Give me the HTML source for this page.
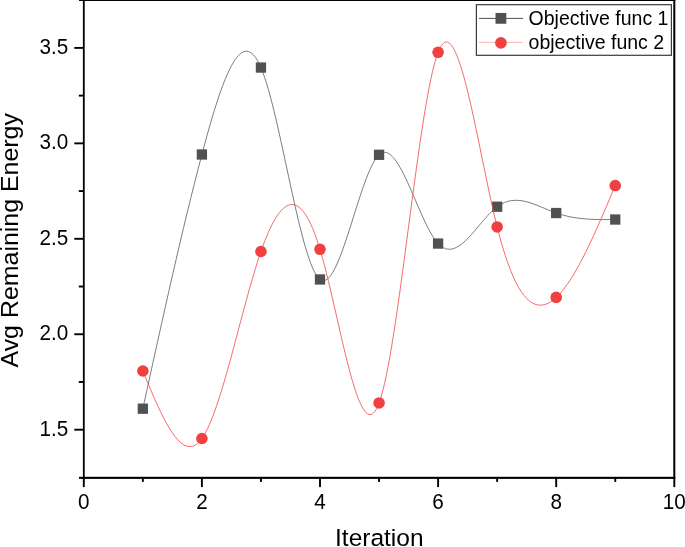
<!DOCTYPE html>
<html><head><meta charset="utf-8"><style>
html,body{margin:0;padding:0;background:#fff;}
body{width:685px;height:547px;overflow:hidden;}
svg{display:block;}
text{font-family:"Liberation Sans",Arial,sans-serif;fill:#000;}
</style></head><body>
<svg width="685" height="547" viewBox="0 0 685 547">
<rect width="685" height="547" fill="#fff"/>

<g fill="#000">
<rect x="79" y="-1" width="596.3" height="2"/>
<rect x="79" y="476.8" width="596.3" height="2.1"/>
<rect x="82.9" y="0" width="1.8" height="478"/>
<rect x="673.3" y="0" width="2" height="478"/>
<rect x="82.85" y="477.5" width="1.9" height="9.6"/>
<rect x="141.90" y="477.5" width="1.9" height="4.4"/>
<rect x="200.95" y="477.5" width="1.9" height="9.6"/>
<rect x="260.00" y="477.5" width="1.9" height="4.4"/>
<rect x="319.05" y="477.5" width="1.9" height="9.6"/>
<rect x="378.10" y="477.5" width="1.9" height="4.4"/>
<rect x="437.15" y="477.5" width="1.9" height="9.6"/>
<rect x="496.20" y="477.5" width="1.9" height="4.4"/>
<rect x="555.25" y="477.5" width="1.9" height="9.6"/>
<rect x="614.30" y="477.5" width="1.9" height="4.4"/>
<rect x="673.35" y="477.5" width="1.9" height="9.6"/>
<rect x="74.30" y="428.75" width="9.5" height="1.9"/>
<rect x="78.80" y="381.02" width="5.0" height="1.9"/>
<rect x="74.30" y="333.30" width="9.5" height="1.9"/>
<rect x="78.80" y="285.57" width="5.0" height="1.9"/>
<rect x="74.30" y="237.85" width="9.5" height="1.9"/>
<rect x="78.80" y="190.13" width="5.0" height="1.9"/>
<rect x="74.30" y="142.40" width="9.5" height="1.9"/>
<rect x="78.80" y="94.67" width="5.0" height="1.9"/>
<rect x="74.30" y="46.95" width="9.5" height="1.9"/>
</g>
<g font-size="22.0" text-anchor="middle">
<text transform="translate(83.80,509.0) scale(0.940,1)">0</text>
<text transform="translate(201.90,509.0) scale(0.940,1)">2</text>
<text transform="translate(320.00,509.0) scale(0.940,1)">4</text>
<text transform="translate(438.10,509.0) scale(0.940,1)">6</text>
<text transform="translate(556.20,509.0) scale(0.940,1)">8</text>
<text transform="translate(674.30,509.0) scale(0.940,1)">10</text>
</g>
<g font-size="22.0" text-anchor="end">
<text transform="translate(68.3,435.80) scale(0.940,1)">1.5</text>
<text transform="translate(68.3,340.35) scale(0.940,1)">2.0</text>
<text transform="translate(68.3,244.90) scale(0.940,1)">2.5</text>
<text transform="translate(68.3,149.45) scale(0.940,1)">3.0</text>
<text transform="translate(68.3,54.00) scale(0.940,1)">3.5</text>
</g>
<text x="379.3" y="546.1" font-size="24.5" text-anchor="middle">Iteration</text>
<text transform="translate(17.7,240.3) rotate(-90) scale(1.022,1)" font-size="24.4" text-anchor="middle">Avg Remaining Energy</text>
<path d="M142.85 408.70 C162.53 318.77 182.22 228.83 201.90 154.50 C221.58 80.16 241.27 21.43 260.95 67.56 C280.63 113.70 300.32 264.70 320.00 279.46 C339.68 294.22 359.37 172.75 379.05 154.80 C398.73 136.86 418.42 222.44 438.10 243.57 C457.78 264.70 477.47 221.38 497.15 206.73 C516.83 192.08 536.52 206.12 556.20 213.03 C575.88 219.94 595.57 219.73 615.25 219.52" fill="none" stroke="#666666" stroke-width="0.85"/>
<rect x="137.70" y="403.55" width="10.3" height="10.3" fill="#515151"/>
<rect x="196.75" y="149.35" width="10.3" height="10.3" fill="#515151"/>
<rect x="255.80" y="62.41" width="10.3" height="10.3" fill="#515151"/>
<rect x="314.85" y="274.31" width="10.3" height="10.3" fill="#515151"/>
<rect x="373.90" y="149.65" width="10.3" height="10.3" fill="#515151"/>
<rect x="432.95" y="238.42" width="10.3" height="10.3" fill="#515151"/>
<rect x="492.00" y="201.58" width="10.3" height="10.3" fill="#515151"/>
<rect x="551.05" y="207.88" width="10.3" height="10.3" fill="#515151"/>
<rect x="610.10" y="214.37" width="10.3" height="10.3" fill="#515151"/>
<path d="M142.85 371.00 C162.53 418.53 182.22 466.06 201.90 438.48 C221.58 410.90 241.27 308.22 260.95 251.49 C280.63 194.77 300.32 184.00 320.00 249.30 C339.68 314.60 359.37 455.96 379.05 402.97 C398.73 349.99 418.42 102.66 438.10 52.29 C457.78 1.93 477.47 148.53 497.15 226.96 C516.83 305.40 536.52 315.67 556.20 297.41 C575.88 279.14 595.57 232.34 615.25 185.54" fill="none" stroke="#F25050" stroke-width="0.85"/>
<circle cx="142.85" cy="371.00" r="5.8" fill="#F14040"/>
<circle cx="201.90" cy="438.48" r="5.8" fill="#F14040"/>
<circle cx="260.95" cy="251.49" r="5.8" fill="#F14040"/>
<circle cx="320.00" cy="249.30" r="5.8" fill="#F14040"/>
<circle cx="379.05" cy="402.97" r="5.8" fill="#F14040"/>
<circle cx="438.10" cy="52.29" r="5.8" fill="#F14040"/>
<circle cx="497.15" cy="226.96" r="5.8" fill="#F14040"/>
<circle cx="556.20" cy="297.41" r="5.8" fill="#F14040"/>
<circle cx="615.25" cy="185.54" r="5.8" fill="#F14040"/>
<rect x="476.4" y="4.7" width="195" height="50.6" fill="#fff" stroke="#3a3a3a" stroke-width="1.2"/>
<line x1="479" y1="18.4" x2="523" y2="18.4" stroke="#515151" stroke-width="1"/>
<rect x="495.5" y="12.95" width="10.8" height="10.8" fill="#515151"/>
<line x1="479" y1="42.4" x2="523" y2="42.4" stroke="#F14040" stroke-width="1" stroke-opacity="0.38"/>
<circle cx="500.9" cy="42.8" r="5.9" fill="#F14040"/>
<text x="528.6" y="25.3" font-size="19.5">Objective func 1</text>
<text x="528.6" y="48.9" font-size="19.5">objective func 2</text>
</svg>
</body></html>
